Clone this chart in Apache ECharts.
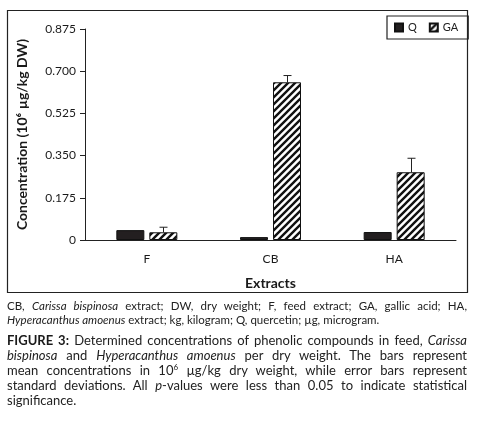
<!DOCTYPE html>
<html>
<head>
<meta charset="utf-8">
<script src="https://cdn.jsdelivr.net/npm/echarts@6/dist/echarts.min.js"></script>
<style>
  html, body { margin: 0; padding: 0; background: #fff; }
  #chart { position: absolute; left: 0; top: 0; width: 490px; height: 425px; }
  .cap { position: absolute; left: 7px; width: 460px; font-family: Lato, 'Open Sans', sans-serif; color: #222; }
  .cap div { white-space: nowrap; height: inherit; }
  .cap .j { text-align: justify; text-align-last: justify; white-space: normal; }
  .cap sup { font-size: 8px; line-height: 0; }
  #abbr { top: 299px; font-size: 11.5px; line-height: 13.5px; }
  #fig { top: 333px; font-size: 13px; line-height: 15px; }
  #fig b { font-weight: bold; color: #1a1a1a; }
</style>
</head>
<body>
<div id="chart"></div>
<div id="abbr" class="cap">
  <div class="j">CB, <i>Carissa bispinosa</i> extract; DW, dry weight; F, feed extract; GA, gallic acid; HA,</div>
  <div><i>Hyperacanthus amoenus</i> extract; kg, kilogram; Q, quercetin; µg, microgram.</div>
</div>
<div id="fig" class="cap">
  <div class="j"><b>FIGURE 3:</b> Determined concentrations of phenolic compounds in feed, <i>Carissa</i></div>
  <div class="j"><i>bispinosa</i> and <i>Hyperacanthus amoenus</i> per dry weight. The bars represent</div>
  <div class="j">mean concentrations in 10<sup>6</sup> µg/kg dry weight, while error bars represent</div>
  <div class="j">standard deviations. All <i>p</i>-values were less than 0.05 to indicate statistical</div>
  <div>significance.</div>
</div>
<script>
// values (10^6 µg/kg DW)
const extracts = ['F', 'CB', 'HA']
const quercetin = [0.041, 0.012, 0.033]
const gallicAcid = [0.032, 0.654, 0.281]
const gallicAcidSd = [0.021, 0.028, 0.058]

const BAR_W = 28
const BAR_GAP = 5

// diagonal hatch for GA bars
function hatch() {
  const size = 7
  const c = document.createElement('canvas')
  c.width = size
  c.height = size
  const ctx = c.getContext('2d')
  ctx.fillStyle = '#fff'
  ctx.fillRect(0, 0, size, size)
  ctx.strokeStyle = '#111'
  ctx.lineWidth = 2.4
  ctx.beginPath()
  ctx.moveTo(-1, size + 1)
  ctx.lineTo(size + 1, -1)
  ctx.moveTo(-2, 2)
  ctx.lineTo(2, -2)
  ctx.moveTo(size - 2, size + 2)
  ctx.lineTo(size + 2, size - 2)
  ctx.stroke()
  return { image: c, repeat: 'repeat' }
}

const chart = echarts.init(document.getElementById('chart'))
const font = 'Lato, "Open Sans", sans-serif'

chart.setOption({
  animation: false,
  textStyle: { fontFamily: font },
  graphic: [{
    type: 'rect',
    shape: { x: 7.5, y: 10.5, width: 460, height: 282 },
    style: { fill: 'none', stroke: '#222', lineWidth: 1.2 }
  }],
  legend: {
    left: 387,
    top: 16,
    padding: [6, 10, 6, 7],
    borderColor: '#222',
    borderWidth: 1.2,
    itemWidth: 8,
    itemHeight: 8,
    itemGap: 12,
    icon: 'rect',
    textStyle: { fontSize: 11, color: '#222' },
    data: ['Q', 'GA']
  },
  grid: { left: 85, right: 34, top: 29, bottom: 185 },
  xAxis: {
    type: 'category',
    data: extracts,
    name: 'Extracts',
    nameLocation: 'middle',
    nameGap: 36,
    nameTextStyle: { fontSize: 14, fontWeight: 'bold', color: '#1a1a1a' },
    axisLine: { lineStyle: { color: '#222', width: 1 } },
    axisTick: { length: 5, lineStyle: { color: '#222' } },
    axisLabel: { fontSize: 12, color: '#1a1a1a', margin: 13 }
  },
  yAxis: {
    type: 'value',
    min: 0,
    max: 0.875,
    interval: 0.175,
    name: 'Concentration (10⁶ µg/kg DW)',
    nameLocation: 'middle',
    nameGap: 56,
    nameTextStyle: { fontSize: 14, fontWeight: 'bold', color: '#1a1a1a' },
    axisLine: { show: true, lineStyle: { color: '#222', width: 1 } },
    axisTick: { show: true, length: 5, lineStyle: { color: '#222' } },
    axisLabel: {
      fontSize: 12,
      color: '#1a1a1a',
      margin: 9,
      formatter: v => (v === 0 ? '0' : v.toFixed(3))
    },
    splitLine: { show: false }
  },
  series: [
    {
      name: 'Q',
      type: 'bar',
      data: quercetin,
      barWidth: BAR_W,
      barGap: (BAR_GAP / BAR_W * 100) + '%',
      itemStyle: { color: '#231f20', borderColor: '#111', borderWidth: 1 }
    },
    {
      name: 'GA',
      type: 'bar',
      data: gallicAcid,
      barWidth: BAR_W,
      itemStyle: { color: hatch(), borderColor: '#111', borderWidth: 1 }
    },
    {
      type: 'custom',
      silent: true,
      data: gallicAcid.map((v, i) => [i, v, v + gallicAcidSd[i]]),
      renderItem: (params, api) => {
        const base = api.coord([api.value(0), api.value(1)])
        const top = api.coord([api.value(0), api.value(2)])
        const x = Math.round(base[0] + (BAR_W + BAR_GAP) / 2) + 0.5
        const style = { stroke: '#222', lineWidth: 1 }
        return {
          type: 'group',
          children: [
            { type: 'line', shape: { x1: x, y1: base[1], x2: x, y2: top[1] }, style },
            { type: 'line', shape: { x1: x - 4, y1: top[1], x2: x + 4, y2: top[1] }, style }
          ]
        }
      },
      z: 3
    }
  ]
})
</script>
</body>
</html>
